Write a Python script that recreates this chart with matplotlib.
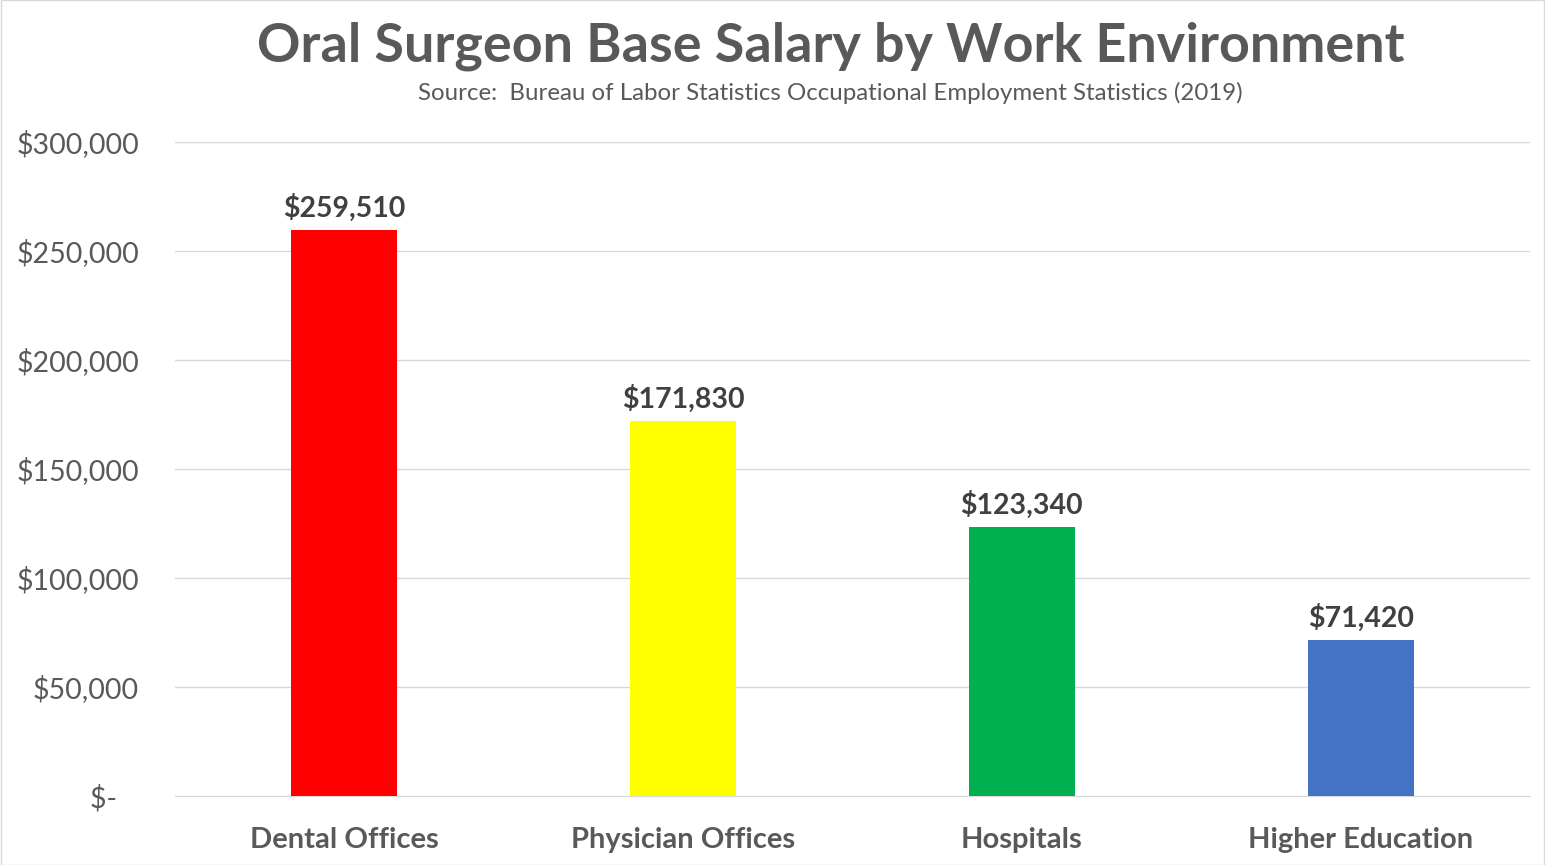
import numpy as np
import matplotlib.pyplot as plt
from matplotlib.ticker import FuncFormatter
from matplotlib.patches import Rectangle

# Datos
environments = ['Dental Offices', 'Physician Offices', 'Hospitals', 'Higher Education']
salaries = np.array([259510, 171830, 123340, 71420])
bar_colors = ['#ff0000', '#ffff00', '#00b050', '#4472c4']
y_ticks = [0, 50000, 100000, 150000, 200000, 250000, 300000]

plt.rcParams['font.family'] = ['Lato', 'DejaVu Sans']

fig = plt.figure(figsize=(15.45, 8.65), dpi=100)
ax = fig.add_axes([0.1133, 0.0798, 0.877, 0.756])

x = np.arange(len(environments))
bars = ax.bar(x, salaries, width=0.313, color=bar_colors, zorder=3)

for b, v in zip(bars, salaries):
    ax.text(b.get_x() + b.get_width() / 2, v + 4000, f'${v:,}',
            ha='center', va='bottom', fontsize=20.5, fontweight='bold', color='#404040')

ax.set_xlim(-0.5, 3.5)
ax.set_ylim(0, 300000)
ax.set_yticks(y_ticks)
ax.yaxis.set_major_formatter(FuncFormatter(lambda v, p: '$-   ' if v == 0 else f'${int(v):,}'))
ax.set_xticks(x)
ax.set_xticklabels(environments, fontsize=21, fontweight='bold', color='#595959')
ax.tick_params(axis='y', labelsize=20.5, colors='#595959', length=0, pad=26)
ax.tick_params(axis='x', length=0, pad=22)

ax.grid(axis='y', color='#d9d9d9', linewidth=1, zorder=0)
for s in ['top', 'right', 'left']:
    ax.spines[s].set_visible(False)
ax.spines['bottom'].set_color('#d9d9d9')

fig.text(0.5375, 0.947, 'Oral Surgeon Base Salary by Work Environment', ha='center', va='center',
         fontsize=38.8, fontweight='bold', color='#595959')
fig.text(0.5375, 0.892, 'Source:  Bureau of Labor Statistics Occupational Employment Statistics (2019)',
         ha='center', va='center', fontsize=17.3, color='#595959')

fig.patches.append(Rectangle((0.0005, 0.0005), 0.999, 0.999, transform=fig.transFigure,
                             fill=False, edgecolor='#d9d9d9', linewidth=1))

fig.savefig('out.png', dpi=100)
